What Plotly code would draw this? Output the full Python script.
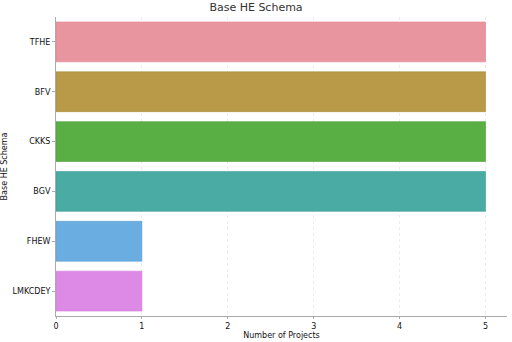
import plotly.graph_objects as go

schemas = ["TFHE", "BFV", "CKKS", "BGV", "FHEW", "LMKCDEY"]
projects = [5, 5, 5, 5, 1, 1]
colors = ["#e9959f", "#b89a48", "#5aaf44", "#49aba4", "#6aade1", "#dd8ae6"]
edges = ["#e08592", "#a88a30", "#4aa035", "#3a9d95", "#5a9dd5", "#d07ad8"]

fig = go.Figure(go.Bar(
    x=projects, y=schemas, orientation="h",
    marker=dict(color=colors, line=dict(color=edges, width=0.6)),
    width=0.8,
))
fig.update_layout(
    width=512, height=342,
    margin=dict(l=56, r=5, t=17, b=26),
    paper_bgcolor="white", plot_bgcolor="white",
    font=dict(family="DejaVu Sans", color="#222"),
    title=dict(text="Base HE Schema", x=0.5, xanchor="center", y=0.99, yanchor="top",
               font=dict(size=11, color="#333")),
    showlegend=False,
)
fig.update_xaxes(range=[0, 5.25], tickvals=[0, 1, 2, 3, 4, 5],
                 tickfont=dict(size=8, color="#111"), automargin=False,
                 showgrid=True, gridcolor="#ececec", griddash="dot", gridwidth=1,
                 showline=True, linecolor="#aaa", linewidth=1,
                 ticks="outside", ticklen=2, tickcolor="#aaa",
                 zeroline=False,
                 title=dict(text="Number of Projects", font=dict(size=8, color="#111"), standoff=1))
fig.update_yaxes(autorange=False, range=[5.5, -0.5], categoryorder="array", categoryarray=schemas,
                 tickfont=dict(size=8, color="#111"), showgrid=False, automargin=False,
                 showline=True, linecolor="#aaa", linewidth=1,
                 ticks="outside", ticklen=3, tickcolor="#aaa",
                 title=dict(text="Base HE Schema", font=dict(size=8, color="#111"), standoff=3))
fig.write_html("out.html")
